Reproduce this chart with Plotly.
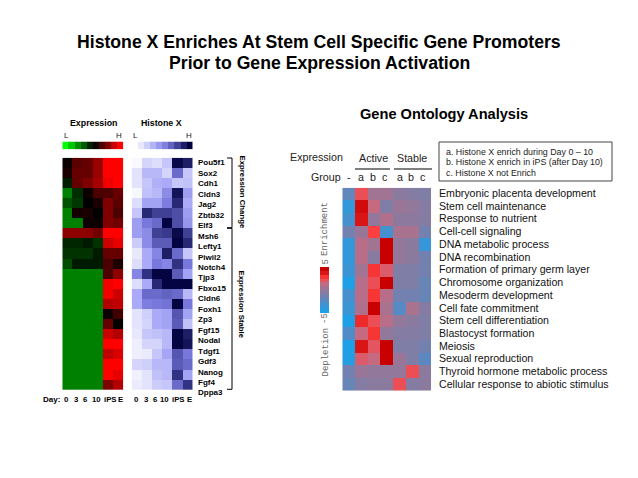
import plotly.graph_objects as go

W, H = 638, 478

genes = ["Pou5f1","Sox2","Cdh1","Cldn3","Jag2","Zbtb32","Elf3","Msh6","Lefty1","Piwil2","Notch4","Tjp3",
         "Fbxo15","Cldn6","Foxh1","Zp3","Fgf15","Nodal","Tdgf1","Gdf3","Nanog","Fgf4","Dppa3"]
days = ["0","3","6","10","iPS","E"]
expression = [
 [.05,.35,.4,.6,1,1],[.1,.4,.4,.6,1,1],[-.12,.4,.5,.65,.95,1],[-.5,-.18,.05,.3,.3,.4],
 [-.32,-.22,0,.1,.5,.35],[-.5,.08,.1,0,.5,.3],[-.5,-.5,.05,.05,.5,.45],[.55,.55,.55,.45,1,1],
 [-.15,-.15,-.1,-.2,.8,.9],[-.2,-.2,-.2,-.1,.4,.4],[-.3,-.1,-.1,-.1,.3,.1],[-.5,-.5,-.5,-.5,.3,.55],
 [-.5,-.5,-.5,-.5,.95,1],[-.5,-.5,-.5,-.5,.95,.8],[-.5,-.5,-.5,-.5,.7,.75],[-.5,-.5,-.5,-.5,.05,.25],
 [-.5,-.5,-.5,-.5,.4,.02],[-.5,-.5,-.5,-.5,.8,.7],[-.5,-.5,-.5,-.5,1,1],[-.5,-.5,-.5,-.5,.75,.85],
 [-.5,-.5,-.5,-.5,1,1],[-.5,-.5,-.5,-.5,1,.9],[-.5,-.5,-.5,-.5,.5,.7]]
histone = [
 [.02,.15,.12,.2,.95,.85],[.1,.25,.25,.15,.55,.2],[.1,.2,.28,.3,.2,.22],[.03,.22,.25,.42,.9,.35],
 [.12,.33,.33,.48,.8,.3],[.2,.8,.7,.7,.65,.35],[.35,.5,.55,.98,.65,.38],[.35,.42,.7,.72,.95,.7],
 [.18,.42,.6,.6,.98,.8],[.08,.3,.45,.85,.55,.2],[.12,.3,.5,.45,.75,.5],[.45,.75,.98,.98,.6,.33],
 [.12,.3,.8,.98,.98,.98],[.3,.55,.55,.58,.55,.25],[.3,.48,.5,.52,.98,.5],[.1,.17,.3,.33,.62,.33],
 [.1,.15,.3,.33,.6,.22],[.08,.2,.22,.25,.98,.85],[.06,.15,.15,.25,.98,.9],[.06,.07,.2,.32,.62,.5],
 [.15,.17,.25,.25,.6,.55],[.05,.1,.22,.25,.75,.33],[.07,.1,.18,.2,.55,.75]]
expr_key = [[-1,-.78,-.55,-.35,-.12,.05,.3,.5,.8,1]]
hist_key = [[0,.08,.17,.27,.37,.47,.58,.7,.85,1]]

terms = ["Embryonic placenta development","Stem cell maintenance","Response to nutrient","Cell-cell signaling",
         "DNA metabolic process","DNA recombination","Formation of primary germ layer","Chromosome organization",
         "Mesoderm development","Cell fate commitment","Stem cell differentiation","Blastocyst formation",
         "Meiosis","Sexual reproduction","Thyroid hormone metabolic process","Cellular response to abiotic stimulus"]
ontology = [
 [-.35,.6,.15,.15,0,-.05,-.1],[-.8,.95,.4,-.1,.1,.05,-.05],[-.6,.9,.05,.25,.02,.02,-.05],
 [-.2,.1,.7,-.6,.2,.2,-.2],[-.8,.3,.15,1,.05,0,-.75],[-.8,.3,-.02,1,.05,0,-.2],
 [-.7,.15,.75,.5,-.1,-.1,-.2],[-1,.3,.6,1,-.1,-.1,-.3],[-.6,.3,.75,.3,-.2,-.2,-.3],
 [-.7,.25,1,.2,-.45,.2,-.05],[-1,.8,.6,.3,.05,0,-.1],[-.5,.4,.75,.05,-.05,-.05,-.1],
 [-1,.9,.55,1,-.1,-.1,-.2],[-.95,.5,.4,1,.1,-.1,-.4],[-.2,.1,.05,.05,.05,.6,0],[-.3,-.05,0,0,.6,-.05,0]]
onto_key = [[1],[.9],[.75],[.55],[.35],[.15],[0],[-.2],[-.4],[-.6],[-.8],[-1]]

day_x_expr = [66.5,76,85.5,97,110,120.5]
day_x_hist = [136,146,155,164,178,189.5]
box_lines = ["a. Histone X enrich during Day 0 – 10","b. Histone X enrich in iPS (after Day 10)","c. Histone X not Enrich"]

RG = [[0,"#00ff00"],[.25,"#008000"],[.5,"#000000"],[.75,"#800000"],[1,"#ff0000"]]
BL = [[0,"#ffffff"],[.3,"#aaaaf8"],[.5,"#7878dc"],[.75,"#323282"],[1,"#00003c"]]
ON = [[0,"#1ea0e6"],[.25,"#4f8cc8"],[.5,"#8a7a9e"],[.7,"#c76a80"],[.85,"#ff4040"],[1,"#c80000"]]

fig = go.Figure()
n = [0]
def panel(z, x0, x1, y0, y1, scale, zmin, zmax):
    n[0] += 1
    s = "" if n[0] == 1 else str(n[0])
    fig.add_trace(go.Heatmap(z=z, colorscale=scale, zmin=zmin, zmax=zmax, showscale=False, hoverinfo="skip",
                             xaxis="x"+s, yaxis="y"+s))
    fig.layout["xaxis"+s] = dict(domain=[x0/W, x1/W], visible=False, fixedrange=True)
    fig.layout["yaxis"+s] = dict(domain=[1-y1/H, 1-y0/H], visible=False, autorange="reversed", fixedrange=True)

panel(expression, 62.3, 123.3, 157.7, 390, RG, -1, 1)
panel(histone, 131.7, 192.7, 157.7, 390, BL, 0, 1)
panel(expr_key, 62.3, 123.3, 141.5, 149.3, RG, -1, 1)
panel(hist_key, 131.7, 192.7, 141.5, 149.3, BL, 0, 1)
panel(ontology, 342.3, 431, 187.7, 390.7, ON, -1, 1)
panel(onto_key, 320, 329, 267, 313, ON, -1, 1)

SANS = "Liberation Sans"
MONO = "Liberation Mono"
def text(s, x, y, size, bold=False, anchor="center", color="#000000", font=SANS, angle=0):
    fig.add_annotation(text=f"<b>{s}</b>" if bold else s, x=x/W, y=1-y/H, xref="paper", yref="paper",
                       showarrow=False, xanchor=anchor, yanchor="middle", textangle=angle, borderpad=0,
                       font=dict(family=font, size=size, color=color))
def line(x0, y0, x1, y1, color="#000000", width=1):
    fig.add_shape(type="line", xref="paper", yref="paper", x0=x0/W, x1=x1/W, y0=1-y0/H, y1=1-y1/H,
                  line=dict(color=color, width=width))

text("Histone X Enriches At Stem Cell Specific Gene Promoters", 319, 42, 17.65, True)
text("Prior to Gene Expression Activation", 319, 63, 17.65, True)
text("Gene Ontology Analysis", 444, 114, 14.6, True)
text("Expression", 93, 123, 8.8, True)
text("Histone X", 161, 123, 8.8, True)
for s, x in [("L",66),("H",119),("L",135),("H",189)]:
    text(s, x, 135, 8, color="#222222")
for i, g in enumerate(genes):
    text(g, 197, 163 + i*10.45, 8, True, "left")
text("Day:", 42, 399, 8, True, "left")
for s, x in zip(days, day_x_expr):
    text(s, x, 399, 7.8, True)
for s, x in zip(days, day_x_hist):
    text(s, x, 399, 7.8, True)
for y0, y1 in [(158,227.7),(228.3,389.3)]:
    line(232, y0, 232, y1)
    line(227, y0, 232, y0)
    line(227, y1, 232, y1)
text("Expression Change", 241.5, 192, 7.8, True, angle=90)
text("Expression Stable", 241.5, 304, 7.8, True, angle=90)

text("Expression", 289, 157, 10.7, anchor="left", color="#222222")
text("Active", 373, 158, 10.7, color="#222222")
text("Stable", 412, 158, 10.7, color="#222222")
line(355, 169, 390, 169, width=1.2)
line(394, 169, 432, 169, width=1.2)
text("Group", 342, 177, 10.7, anchor="right", color="#222222")
text("-", 349, 177, 10.7, color="#222222")
for s, x in zip(["a","b","c","a","b","c"], [361,373,385,400,411,423]):
    text(s, x, 177, 10.7, color="#222222")
fig.add_shape(type="rect", xref="paper", yref="paper", x0=439/W, x1=612/W, y0=1-142/H, y1=1-181/H,
              line=dict(color="#444444", width=1))
for i, s in enumerate(box_lines):
    text(s, 445, 152 + i*10.5, 8.85, anchor="left", color="#222222")
for i, t in enumerate(terms):
    text(t, 438, 193 + i*12.73, 10.6, anchor="left", color="#111111")
GR = "#666666"
text("Enrichment", 325, 229, 9, font=MONO, color=GR, angle=-90)
text("5", 325, 262.5, 9, font=MONO, color=GR, angle=-90)
text("-5", 325, 319, 9, font=MONO, color=GR, angle=-90)
text("Depletion", 325, 352.5, 9, font=MONO, color=GR, angle=-90)

fig.update_layout(width=W, height=H, margin=dict(l=0,r=0,t=0,b=0), paper_bgcolor="white", plot_bgcolor="white", showlegend=False)
fig.write_html("out.html", config={"displayModeBar": False}, post_script="document.body.style.margin='0';")
